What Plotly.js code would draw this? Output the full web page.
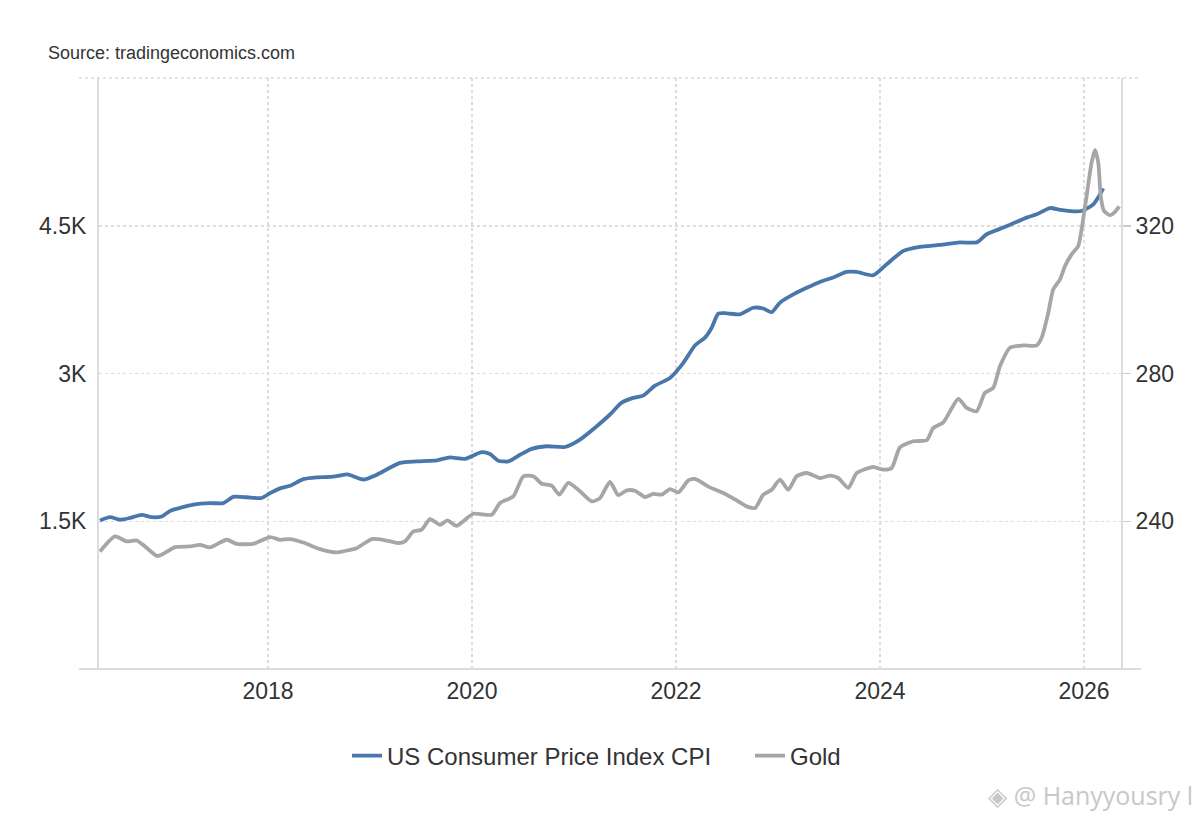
<!DOCTYPE html>
<html>
<head>
<meta charset="utf-8">
<script src="https://cdn.plot.ly/plotly-3.0.1.min.js"></script>
<style>
  html, body { margin: 0; padding: 0; background: #ffffff; }
  #chart { width: 1200px; height: 820px; }
</style>
</head>
<body>
<div id="chart"></div>
<script>
// ---- Data ----
const seriesNames = ['US Consumer Price Index CPI', 'Gold'];

// US CPI (right axis)
const cpiYears = [2016.353, 2016.451, 2016.549, 2016.647, 2016.762, 2016.860, 2016.958, 2017.039, 2017.137, 2017.268,
  2017.431, 2017.562, 2017.660, 2017.791, 2017.938, 2018.020, 2018.118, 2018.216, 2018.346, 2018.477,
  2018.608, 2018.689, 2018.780, 2018.934, 2019.066, 2019.294, 2019.458, 2019.654, 2019.784, 2019.931,
  2020.095, 2020.176, 2020.258, 2020.356, 2020.471, 2020.585, 2020.732, 2020.912, 2021.059, 2021.223,
  2021.353, 2021.468, 2021.581, 2021.679, 2021.794, 2021.941, 2022.072, 2022.186, 2022.284, 2022.350,
  2022.415, 2022.497, 2022.627, 2022.758, 2022.856, 2022.938, 2023.020, 2023.150, 2023.281, 2023.412,
  2023.542, 2023.673, 2023.772, 2023.934, 2024.066, 2024.229, 2024.392, 2024.588, 2024.784, 2024.948,
  2025.046, 2025.209, 2025.438, 2025.536, 2025.667, 2025.765, 2025.895, 2025.977, 2026.091, 2026.157, 2026.189];
const cpiValues = [240.2, 241.1, 240.4, 240.9, 241.7, 241.1, 241.3, 242.8, 243.6, 244.5,
  244.9, 244.9, 246.6, 246.5, 246.3, 247.6, 248.9, 249.6, 251.4, 251.9,
  252.0, 252.3, 252.7, 251.3, 252.6, 255.8, 256.2, 256.5, 257.3, 256.9,
  258.7, 258.2, 256.4, 256.2, 258.0, 259.6, 260.3, 260.1, 262.1, 265.7,
  268.9, 272.1, 273.4, 274.0, 276.7, 278.8, 282.9, 287.6, 289.7, 292.4,
  296.2, 296.3, 296.0, 297.8, 297.6, 296.6, 299.2, 301.4, 303.2, 304.8,
  306.0, 307.5, 307.5, 306.6, 309.6, 313.2, 314.3, 314.8, 315.5, 315.5,
  317.7, 319.5, 322.2, 323.1, 324.8, 324.3, 323.9, 324.0, 325.8, 328.5, 330.1];

// Gold (left axis)
const goldYears = [2016.353, 2016.500, 2016.615, 2016.713, 2016.794, 2016.909, 2016.958, 2017.088, 2017.235, 2017.333,
  2017.431, 2017.595, 2017.693, 2017.856, 2018.020, 2018.118, 2018.216, 2018.346, 2018.510, 2018.674,
  2018.804, 2018.870, 2019.017, 2019.130, 2019.277, 2019.343, 2019.425, 2019.507, 2019.588, 2019.686,
  2019.758, 2019.850, 2020.013, 2020.193, 2020.275, 2020.405, 2020.503, 2020.601, 2020.683, 2020.781,
  2020.856, 2020.944, 2021.042, 2021.174, 2021.255, 2021.353, 2021.434, 2021.517, 2021.598, 2021.696,
  2021.777, 2021.860, 2021.941, 2022.023, 2022.121, 2022.186, 2022.333, 2022.464, 2022.595, 2022.693,
  2022.775, 2022.856, 2022.938, 2023.020, 2023.101, 2023.183, 2023.281, 2023.412, 2023.510, 2023.591,
  2023.689, 2023.772, 2023.934, 2024.032, 2024.115, 2024.196, 2024.327, 2024.458, 2024.523, 2024.621,
  2024.768, 2024.850, 2024.948, 2025.029, 2025.111, 2025.176, 2025.275, 2025.405, 2025.536, 2025.585,
  2025.650, 2025.699, 2025.765, 2025.814, 2025.879, 2025.944, 2025.977, 2026.026, 2026.075, 2026.108,
  2026.140, 2026.164, 2026.196, 2026.255, 2026.304, 2026.346];
const goldValues = [1193, 1346, 1295, 1305, 1244, 1149, 1160, 1238, 1244, 1261,
  1234, 1312, 1271, 1271, 1339, 1312, 1319, 1284, 1217, 1183,
  1210, 1227, 1319, 1312, 1278, 1295, 1396, 1414, 1522, 1464,
  1508, 1454, 1576, 1566, 1685, 1752, 1956, 1956, 1881, 1861,
  1770, 1889, 1820, 1701, 1735, 1900, 1765, 1813, 1810, 1746,
  1777, 1770, 1827, 1793, 1915, 1929, 1844, 1787, 1712, 1651,
  1634, 1770, 1820, 1922, 1820, 1956, 1990, 1939, 1963, 1939,
  1838, 1990, 2051, 2024, 2041, 2250, 2312, 2322, 2448, 2505,
  2743, 2651, 2617, 2804, 2855, 3074, 3262, 3285, 3285, 3363,
  3617, 3855, 3956, 4091, 4210, 4295, 4465, 4803, 5143, 5271,
  5143, 4803, 4651, 4607, 4641, 4696];

// Ticks
const xTickVals = [2018, 2020, 2022, 2024, 2026];
const xTickText = ['2018', '2020', '2022', '2024', '2026'];
const goldTickVals = [1500, 3000, 4500];
const goldTickText = ['1.5K', '3K', '4.5K'];
const cpiTickVals = [240, 280, 320];
const cpiTickText = ['240', '280', '320'];

// ---- Styling ----
const FONT = 'Liberation Sans, Arial, Helvetica, sans-serif';
const TXT = '#333333';
const LINE = '#dcdcdc';
const BLUE = '#4a77ab';
const GRAY = '#a6a6a6';

// plot area in pixels: x 99..1121, y 78..669
const plotW = 1022, plotH = 591;
const ext = 20 / plotW;

const traces = [
  {
    x: cpiYears, y: cpiValues, name: seriesNames[0], type: 'scatter', mode: 'lines',
    yaxis: 'y', legend: 'legend',
    line: { color: BLUE, width: 3.8, shape: 'spline', smoothing: 0.6 }
  },
  {
    x: goldYears, y: goldValues, name: seriesNames[1], type: 'scatter', mode: 'lines',
    yaxis: 'y2', legend: 'legend2',
    line: { color: GRAY, width: 3.8, shape: 'spline', smoothing: 0.6 }
  }
];

const legendBase = {
  orientation: 'h',
  xref: 'container', yref: 'container',
  xanchor: 'left',
  y: 1 - 756 / 820, yanchor: 'middle',
  font: { family: FONT, size: 24, color: TXT },
  bgcolor: 'rgba(0,0,0,0)',
  itemwidth: 30
};

const layout = {
  width: 1200, height: 820,
  paper_bgcolor: '#ffffff', plot_bgcolor: '#ffffff',
  margin: { l: 99, r: 79, t: 78, b: 151 },
  font: { family: FONT, color: TXT, size: 23 },
  title: {
    text: 'Source: tradingeconomics.com',
    font: { family: FONT, size: 18, color: TXT },
    xref: 'container', yref: 'container',
    x: 48 / 1200, xanchor: 'left',
    y: 1 - 53 / 820, yanchor: 'middle'
  },
  xaxis: {
    range: [2016.343, 2026.363],
    tickmode: 'array', tickvals: xTickVals, ticktext: xTickText,
    showgrid: true, gridcolor: LINE, griddash: 'dot', gridwidth: 1.5,
    zeroline: false, showline: false, ticks: '',
    tickfont: { family: FONT, size: 23, color: TXT },
    ticklabelstandoff: 6,
    fixedrange: true
  },
  yaxis: {
    side: 'right',
    range: [200, 360],
    tickmode: 'array', tickvals: cpiTickVals, ticktext: cpiTickText,
    showgrid: true, gridcolor: LINE, griddash: 'dot', gridwidth: 1.5,
    zeroline: false, showline: true, linecolor: LINE, linewidth: 2,
    ticks: 'outside', ticklen: 8, tickcolor: '#cccccc', tickwidth: 1.5,
    tickfont: { family: FONT, size: 23, color: TXT },
    fixedrange: true
  },
  yaxis2: {
    overlaying: 'y', side: 'left',
    range: [0, 6000],
    tickmode: 'array', tickvals: goldTickVals, ticktext: goldTickText,
    showgrid: false, zeroline: false,
    showline: true, linecolor: LINE, linewidth: 2,
    ticks: '',
    tickfont: { family: FONT, size: 23, color: TXT },
    ticklabelstandoff: 6,
    fixedrange: true
  },
  shapes: [
    { type: 'line', xref: 'paper', yref: 'paper', x0: -ext, x1: 1 + ext, y0: 0, y1: 0,
      line: { color: LINE, width: 2 }, layer: 'below' },
    { type: 'line', xref: 'paper', yref: 'paper', x0: -ext, x1: 1 + ext, y0: 1, y1: 1,
      line: { color: LINE, width: 1.5, dash: 'dot' }, layer: 'below' }
  ],
  showlegend: true,
  legend: Object.assign({}, legendBase, { x: (352 - 5) / 1200 }),
  legend2: Object.assign({}, legendBase, { x: (755 - 5) / 1200 }),
  annotations: [
    {
      text: '◈ @ Hanyyousry l',
      xref: 'paper', yref: 'paper',
      x: (986 - 99) / plotW, xanchor: 'left',
      y: (669 - 795) / plotH, yanchor: 'middle',
      showarrow: false,
      font: { family: 'Open Sans, DejaVu Sans, sans-serif', size: 25, color: '#c8c8c8' }
    }
  ],
  hovermode: false
};

Plotly.newPlot('chart', traces, layout, { displayModeBar: false, staticPlot: true });
</script>
</body>
</html>
